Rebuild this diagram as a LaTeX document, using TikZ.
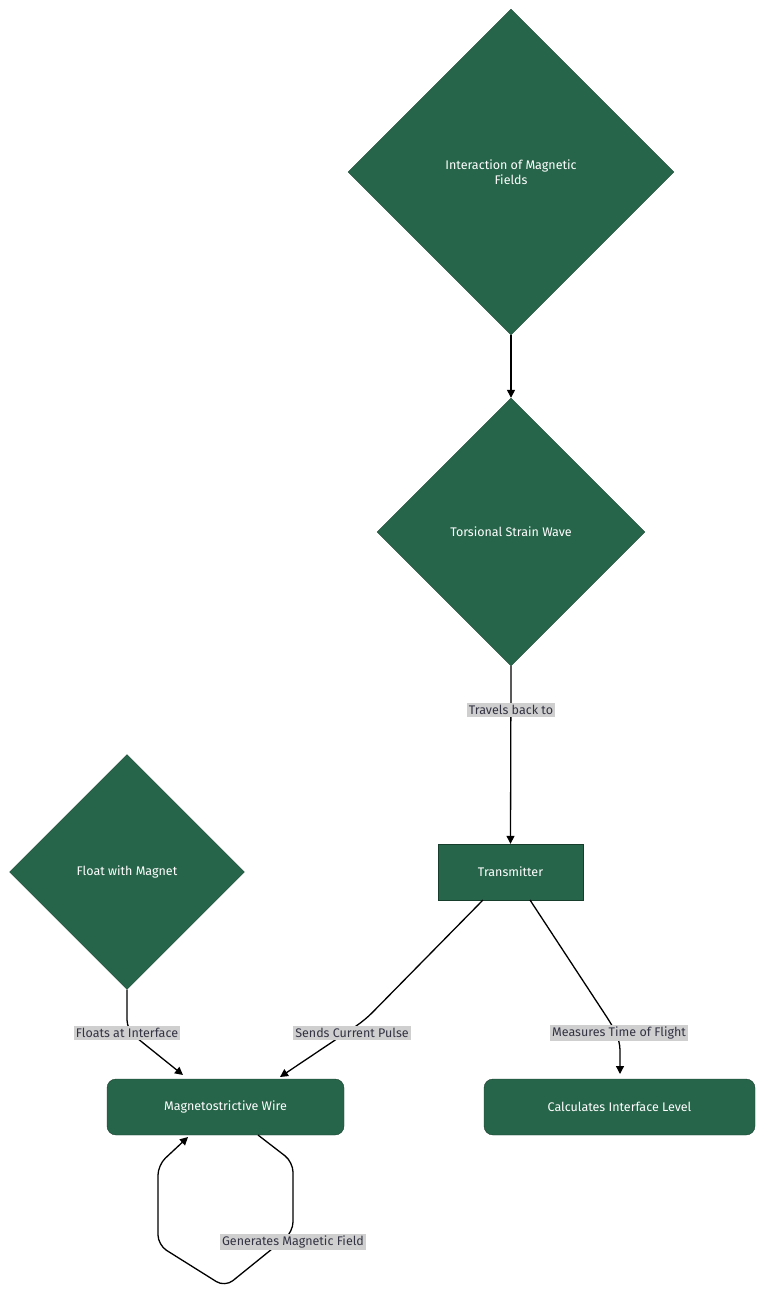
\documentclass[tikz,border=0pt]{standalone}
\usepackage{fontspec}
\setmainfont{Fira Sans}
\usetikzlibrary{shapes.geometric,arrows.meta}
\definecolor{nodegreen}{HTML}{27654A}
\definecolor{lblbg}{HTML}{CFCFCF}
\definecolor{lbltxt}{HTML}{333344}
\begin{document}
\begin{tikzpicture}[x=1pt,y=-1pt,
  every node/.style={font=\fontsize{12.5}{15}\selectfont},
  dia/.style={diamond,fill=nodegreen,draw=nodegreen!70!black,text=white,inner sep=0pt,aspect=1,align=center},
  box/.style={rectangle,fill=nodegreen,draw=nodegreen!60!black,text=white,align=center},
  edge/.style={draw=black,line width=1.3pt,-{Triangle[length=8pt,width=8pt]},rounded corners=10pt},
  lbl/.style={fill=lblbg,text=lbltxt,inner sep=2pt}]
\useasboundingbox (0,0) rectangle (768,1302);
\node[dia,minimum size=326] (d1) at (511,172) {Interaction of Magnetic\\Fields};
\node[dia,minimum size=268] (d2) at (511,532) {Torsional Strain Wave};
\node[dia,minimum size=235] (d3) at (127,872) {Float with Magnet};
\node[box,minimum width=145,minimum height=56] (tx) at (510.5,872) {Transmitter};
\node[box,rounded corners=9pt,minimum width=237,minimum height=56] (mw) at (225.5,1107) {Magnetostrictive Wire};
\node[box,rounded corners=9pt,minimum width=271,minimum height=56] (ci) at (619.5,1107) {Calculates Interface Level};

\draw[edge] (d1.south) -- (d2.north);
\draw[edge] (d2.south) -- (tx.north);
\node[lbl] (l1) at (511,710) {Travels back to};
\coordinate (a1) at (127,1030);
\draw[edge] (d3.south) -- (a1) -- (183,1075);
\node[lbl] (l2) at (127,1033) {Floats at Interface};
\coordinate (a2) at (365,1020);
\draw[edge] (483,900) -- (a2) -- (280,1077);
\node[lbl] (l3) at (352,1033) {Sends Current Pulse};
\coordinate (a3) at (620,1040);
\draw[edge] (530,900) -- (612,1025) -- (a3) -- (620,1074);
\node[lbl] (l4) at (619,1033) {Measures Time of Flight};
\draw[edge] (258,1135) -- (293,1162) -- (293,1232) -- (225,1287) -- (158,1245) -- (158,1165) -- (188,1137);
\node[lbl] (l5) at (293,1242) {Generates Magnetic Field};
\end{tikzpicture}
\end{document}
